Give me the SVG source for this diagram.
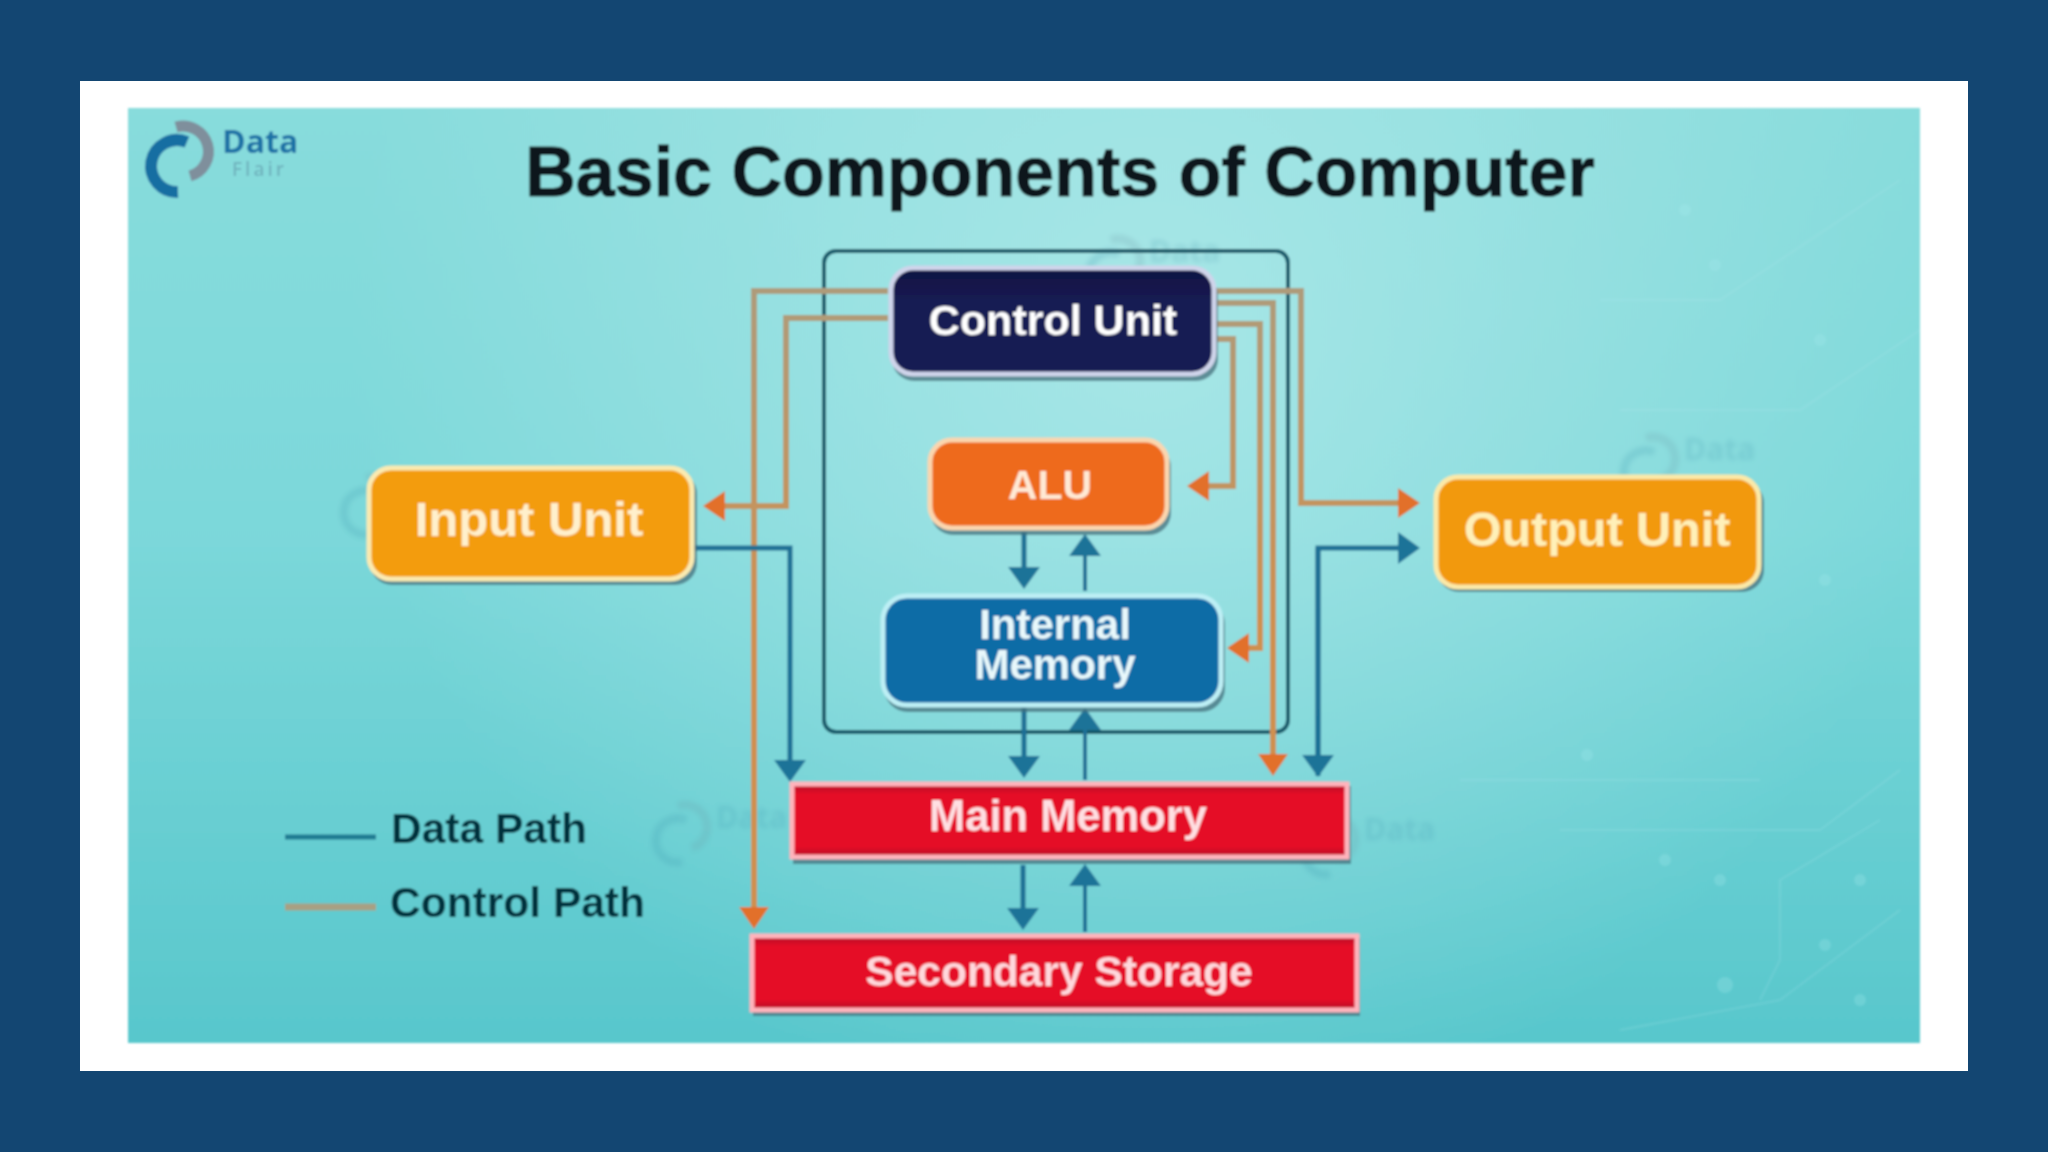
<svg xmlns="http://www.w3.org/2000/svg" width="2048" height="1152" viewBox="0 0 2048 1152">
<defs>
<linearGradient id="bgl" x1="0" y1="0" x2="0" y2="1">
<stop offset="0" stop-color="#88dcdc"/><stop offset=".45" stop-color="#7cd8da"/><stop offset="1" stop-color="#58c7cc"/>
</linearGradient>
<radialGradient id="bgr" gradientUnits="userSpaceOnUse" cx="1150" cy="330" r="800">
<stop offset="0" stop-color="#b4eaea" stop-opacity=".75"/><stop offset="1" stop-color="#b4eaea" stop-opacity="0"/>
</radialGradient>
<linearGradient id="red" x1="0" y1="0" x2="0" y2="1">
<stop offset="0" stop-color="#b30a26"/><stop offset=".14" stop-color="#e50a28"/><stop offset=".86" stop-color="#e50a28"/><stop offset="1" stop-color="#b30a26"/>
</linearGradient>
<linearGradient id="navy" x1="0" y1="0" x2="0" y2="1">
<stop offset="0" stop-color="#0f1242"/><stop offset=".3" stop-color="#171b52"/><stop offset="1" stop-color="#171b52"/>
</linearGradient>
<linearGradient id="ctlg" gradientUnits="userSpaceOnUse" x1="0" y1="280" x2="0" y2="620">
<stop offset="0" stop-color="#ad9c7c"/><stop offset="1" stop-color="#cf9050"/>
</linearGradient>
<filter id="soft" x="-2%" y="-2%" width="104%" height="104%"><feGaussianBlur stdDeviation="0.9"/></filter>
<filter id="softer" x="-20%" y="-20%" width="140%" height="140%"><feGaussianBlur stdDeviation="2.2"/></filter>
<marker id="ao" markerUnits="userSpaceOnUse" markerWidth="23" markerHeight="31" refX="16" refY="15" orient="auto"><path d="M0 0L22 15L0 30z" fill="#e2702c"/></marker>
<marker id="ab" markerUnits="userSpaceOnUse" markerWidth="23" markerHeight="33" refX="16" refY="16" orient="auto"><path d="M0 0L22 16L0 32z" fill="#1f7398"/></marker>
<g id="wm" fill="none">
<path d="M14 -18A22 22 0 1 0 10 24" stroke="#3f95ad" stroke-width="8"/>
<path d="M6 -32A22 22 0 0 1 20 10" stroke="#6a9aa5" stroke-width="8"/>
<text x="44" y="-10" font-family="'Open Sans',sans-serif" font-size="30" font-weight="700" fill="#3f95ad" stroke="none">Data</text>
</g>
</defs>
<style>
.ctl{fill:none;stroke:url(#ctlg);stroke-width:6;marker-end:url(#ao)}
.dat{fill:none;stroke:#1c7095;stroke-width:5;marker-end:url(#ab)}
.thin{stroke-width:4}
.box{stroke-width:5}
.sh{fill:#46707c;opacity:.75}
.lab{font-family:"Liberation Sans",Arial,sans-serif;font-weight:700;fill:#fff;text-anchor:middle}
.leg{font-family:"Liberation Sans",Arial,sans-serif;font-weight:700;font-size:42.5px;fill:#06303e}
.trace{fill:none;stroke:#b9eef0;stroke-width:2;opacity:.16}
.dot{fill:#a9ecee;opacity:.25}
</style>
<rect width="2048" height="1152" fill="#134672"/>
<rect x="80" y="81" width="1888" height="990" fill="#fff"/>
<g filter="url(#soft)">
<rect x="128" y="108" width="1792" height="935" fill="url(#bgl)"/>
<rect x="128" y="108" width="1792" height="935" fill="url(#bgr)"/>
<g id="background-traces">
<path class="trace" d="M1600 300H1720L1900 180M1620 410H1800L1920 330M1460 780H1760M1560 830H1820L1900 770M1760 1000L1780 960V880L1880 820M1620 1030L1780 1000L1900 910"/>
<circle class="dot" cx="1685" cy="210" r="6"/><circle class="dot" cx="1715" cy="265" r="6"/><circle class="dot" cx="1820" cy="340" r="6"/><circle class="dot" cx="1825" cy="580" r="6"/><circle class="dot" cx="1587" cy="755" r="6"/><circle class="dot" cx="1665" cy="860" r="6"/><circle class="dot" cx="1720" cy="880" r="6"/><circle class="dot" cx="1825" cy="945" r="6"/><circle class="dot" cx="1860" cy="880" r="6"/><circle class="dot" cx="1725" cy="985" r="8"/><circle class="dot" cx="1860" cy="1000" r="6"/>
</g>
<g id="watermarks" opacity=".2" filter="url(#softer)">
<use href="#wm" x="1105" y="272"/>
<use href="#wm" x="1640" y="470"/>
<use href="#wm" x="360" y="510"/>
<use href="#wm" x="672" y="838"/>
<use href="#wm" x="1320" y="850"/>
</g>
<g id="logo" fill="none">
<path d="M187 142A26 26 0 1 0 178 192" stroke="#156ea2" stroke-width="12"/>
<path d="M176 127A25 25 0 0 1 190 176" stroke="#7f8f9c" stroke-width="11"/>
<text x="222" y="153" font-family="'Open Sans',sans-serif" font-size="32" font-weight="700" fill="#1b72a6" stroke="none">Data</text>
<text x="232" y="176" font-family="'Open Sans',sans-serif" font-size="19" font-weight="600" letter-spacing="3" fill="#6fb3bd" stroke="none">Flair</text>
</g>
<text id="title" x="1060" y="196" text-anchor="middle" font-family="'Liberation Sans',Arial,sans-serif" font-size="70" font-weight="700" fill="#0b141a" stroke="#0b141a" stroke-width="1">Basic Components of Computer</text>
<rect id="cpu-box" x="824" y="251" width="464" height="481" rx="12" fill="none" stroke="#175a6a" stroke-width="4"/>
<g id="connectors">
<path class="ctl" d="M888 291H754V923"/>
<path class="ctl" d="M888 318H786V506H709"/>
<path class="ctl" d="M1216 291H1301V503H1414"/>
<path class="ctl" d="M1216 303H1273V770"/>
<path class="ctl" d="M1216 324H1260V648H1233"/>
<path class="ctl" d="M1216 339H1233V486H1193"/>
<path class="dat" d="M693 548H790V776"/>
<path class="dat" d="M1318 776V548H1414"/>
<path class="dat" d="M1318 548V771"/>
<path class="dat" d="M1024 532V583"/>
<path class="dat thin" d="M1085 591V540"/>
<path class="dat" d="M1024 707V772"/>
<path class="dat thin" d="M1085 780V714"/>
<path class="dat" d="M1023 865V924"/>
<path class="dat thin" d="M1085 932V870"/>
</g>
<g id="control-unit">
<rect class="sh" x="892" y="274" width="326" height="107" rx="22"/>
<rect class="box" x="891" y="268" width="323" height="106" rx="22" fill="url(#navy)" stroke="#cfd4ea"/>
<text class="lab" x="1053" y="335" font-size="43">Control Unit</text>
</g>
<g id="alu">
<rect class="sh" x="931" y="445" width="240" height="90" rx="22"/>
<rect class="box" x="930" y="440" width="237" height="88" rx="22" fill="#ee6a1a" stroke="#fbd6ae"/>
<text class="lab" x="1050" y="499" font-size="41" style="fill:#ffe9d4">ALU</text>
</g>
<g id="internal-memory">
<rect class="sh" x="884" y="600" width="341" height="112" rx="24"/>
<rect class="box" x="883" y="596" width="338" height="109" rx="24" fill="#0f6ca6" stroke="#bdeff5"/>
<text class="lab" font-size="42" style="fill:#e8f8fb"><tspan x="1055" y="639">Internal</tspan><tspan x="1055" y="679">Memory</tspan></text>
</g>
<g id="input-unit">
<rect class="sh" x="370" y="472" width="327" height="113" rx="22"/>
<rect class="box" x="369" y="468" width="323" height="111" rx="22" fill="#f39c0c" stroke="#fbeab0"/>
<text class="lab" x="529" y="536" font-size="49" style="fill:#fff0cc">Input Unit</text>
</g>
<g id="output-unit">
<rect class="sh" x="1437" y="481" width="327" height="111" rx="22"/>
<rect class="box" x="1436" y="477" width="323" height="110" rx="22" fill="#f2990e" stroke="#fbe9a8"/>
<text class="lab" x="1597" y="546" font-size="48.5" style="fill:#fff0b8">Output Unit</text>
</g>
<g id="main-memory">
<rect class="sh" x="793" y="786" width="558" height="78"/>
<rect class="box" x="792" y="784" width="555" height="73" fill="url(#red)" stroke="#ffb4bc"/>
<text class="lab" x="1068" y="831" font-size="43.5" style="fill:#ffdfe2">Main Memory</text>
</g>
<g id="secondary-storage">
<rect class="sh" x="753" y="938" width="607" height="78"/>
<rect class="box" x="752" y="936" width="605" height="74" fill="url(#red)" stroke="#ffb4bc"/>
<text class="lab" x="1059" y="986" font-size="42.5" style="fill:#ffd8dc">Secondary Storage</text>
</g>
<g id="legend">
<line x1="285" y1="837" x2="376" y2="837" stroke="#1a7a92" stroke-width="5"/>
<line x1="285" y1="907" x2="376" y2="907" stroke="#a8a083" stroke-width="7"/>
<text class="leg" x="391" y="843">Data Path</text>
<text class="leg" x="390" y="917">Control Path</text>
</g>
</g>
</svg>
